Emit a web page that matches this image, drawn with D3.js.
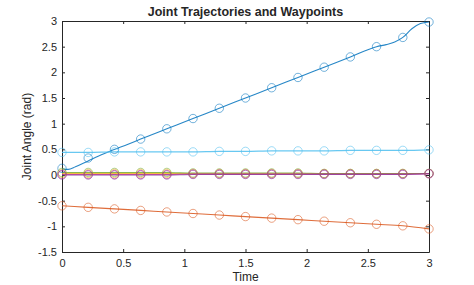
<!DOCTYPE html>
<meta charset="utf-8">
<style>
body { margin: 0; background: #fff; }
text { font-family: "Liberation Sans", Arial, sans-serif; fill: #262626; }
.tick line, .domain { stroke: #262626; }
.traj { fill: none; stroke-width: 1.1px; stroke-opacity: 0.85; }
.wp { fill: none; stroke-width: 1px; stroke-opacity: 0.55; }
</style>
<svg width="474" height="285"></svg>
<script src="https://cdn.jsdelivr.net/npm/d3@7"></script>
<script>

// waypoint times (15 waypoints over 0..3 s)
var times = [0, 0.214, 0.429, 0.643, 0.857, 1.071, 1.286, 1.5, 1.714, 1.929, 2.143, 2.357, 2.571, 2.786, 3];

// waypoint values per joint (rad)
var joint1 = [0.13, 0.33, 0.5, 0.7, 0.9, 1.1, 1.3, 1.5, 1.7, 1.9, 2.1, 2.3, 2.5, 2.68, 2.98];
var joint2 = [-0.6, -0.63, -0.66, -0.69, -0.72, -0.75, -0.78, -0.81, -0.84, -0.87, -0.9, -0.93, -0.96, -0.99, -1.05];
var joint3 = [0.03, 0.03, 0.03, 0.03, 0.03, 0.03, 0.03, 0.03, 0.03, 0.03, 0.03, 0.03, 0.03, 0.03, 0.03];
var joint4 = [0.01, 0.01, 0.01, 0.01, 0.01, 0.02, 0.02, 0.02, 0.02, 0.02, 0.02, 0.02, 0.02, 0.02, 0.02];
var joint5 = [0.05, 0.05, 0.05, 0.05, 0.05, 0.04, 0.04, 0.04, 0.04, 0.04, 0.03, 0.03, 0.03, 0.03, 0.03];
var joint6 = [0.44, 0.44, 0.45, 0.45, 0.45, 0.45, 0.46, 0.46, 0.47, 0.47, 0.47, 0.48, 0.48, 0.48, 0.49];
var joint7 = [0.0, 0.0, 0.0, 0.0, 0.0, 0.01, 0.01, 0.01, 0.01, 0.01, 0.01, 0.01, 0.01, 0.01, 0.03];

var traj1Times = [0, 0.05, 0.11, 0.21, 0.3, 0.41, 0.54, 0.643, 0.857, 1.071, 1.286, 1.5, 1.714, 1.929, 2.143, 2.357, 2.571, 2.65, 2.72, 2.786, 2.86, 2.93, 3];
var traj1Values = [0.12, 0.11, 0.16, 0.27, 0.37, 0.48, 0.6, 0.7, 0.9, 1.1, 1.3, 1.5, 1.7, 1.9, 2.1, 2.3, 2.5, 2.54, 2.59, 2.68, 2.85, 2.95, 2.98];

var colors = ["#0072BD", "#D95319", "#EDB120", "#B4359E", "#77AC30", "#4DBEEE", "#7E2F8E"];
var joints = [joint1, joint2, joint3, joint5, joint7, joint4, joint6];
var jointColors = [colors[0], colors[1], colors[2], colors[4], colors[6], colors[3], colors[5]];

var xTicks = [0, 0.5, 1, 1.5, 2, 2.5, 3];
var yTicks = [-1.5, -1, -0.5, 0, 0.5, 1, 1.5, 2, 2.5, 3];

var svg = d3.select("svg"),
    margin = {top: 21, right: 45, bottom: 33, left: 62},
    width = +svg.attr("width") - margin.left - margin.right,
    height = +svg.attr("height") - margin.top - margin.bottom,
    g = svg.append("g").attr("transform", "translate(" + margin.left + "," + margin.top + ")");

var x = d3.scaleLinear().domain([0, 3]).range([0, width]);
var y = d3.scaleLinear().domain([-1.5, 3]).range([height, 0]);

var fmt = function(d) { return String(d); };

g.append("g").attr("transform", "translate(0," + height + ")")
    .call(d3.axisBottom(x).tickValues(xTicks).tickFormat(fmt).tickSizeInner(-3).tickSizeOuter(0).tickPadding(7));
g.append("g")
    .call(d3.axisTop(x).tickValues(xTicks).tickFormat("").tickSizeInner(-3).tickSizeOuter(0));
g.append("g")
    .call(d3.axisLeft(y).tickValues(yTicks).tickFormat(fmt).tickSizeInner(-3).tickSizeOuter(0).tickPadding(5));
g.append("g").attr("transform", "translate(" + width + ",0)")
    .call(d3.axisRight(y).tickValues(yTicks).tickFormat("").tickSizeInner(-3).tickSizeOuter(0));

g.selectAll(".tick text").style("font-size", "11px");

var plot = g.append("g");

var line = d3.line()
    .x(function(d) { return x(d[0]); })
    .y(function(d) { return y(d[1]); })
    .curve(d3.curveMonotoneX);

joints.forEach(function(vals, j) {
    var pts = j === 0
        ? traj1Times.map(function(t, i) { return [t, traj1Values[i]]; })
        : times.map(function(t, i) { return [t, vals[i]]; });
    plot.append("path")
        .datum(pts)
        .attr("class", "traj")
        .attr("stroke", jointColors[j])
        .attr("d", line);
});

joints.forEach(function(vals, j) {
    plot.selectAll(null)
        .data(times.map(function(t, i) { return [t, vals[i]]; }))
        .enter().append("circle")
        .attr("class", "wp")
        .attr("stroke", jointColors[j])
        .attr("cx", function(d) { return x(d[0]); })
        .attr("cy", function(d) { return y(d[1]); })
        .attr("r", 4.2);
});

svg.append("text")
    .attr("x", margin.left + width / 2).attr("y", 16)
    .attr("text-anchor", "middle")
    .style("font-size", "12.5px").style("font-weight", "bold")
    .text("Joint Trajectories and Waypoints");

svg.append("text")
    .attr("x", margin.left + width / 2).attr("y", 281)
    .attr("text-anchor", "middle")
    .style("font-size", "12px")
    .text("Time");

svg.append("text")
    .attr("transform", "translate(31," + (margin.top + height / 2) + ") rotate(-90)")
    .attr("text-anchor", "middle")
    .style("font-size", "12px")
    .text("Joint Angle (rad)");

</script>
